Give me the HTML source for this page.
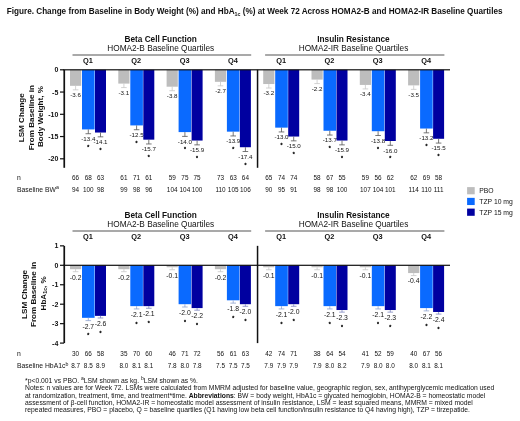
<!DOCTYPE html>
<html><head><meta charset="utf-8"><style>
html,body{margin:0;padding:0;background:#fff;}
svg{display:block;}
text{font-family:"Liberation Sans", Arial, Helvetica, sans-serif;fill:#111;}
</style></head><body>
<svg width="520" height="421" viewBox="0 0 520 421">
<text x="6.8" y="14.4" font-size="8.17" font-weight="bold">Figure. Change from Baseline in Body Weight (%) and HbA<tspan font-size="5.3" dy="1.8">1c</tspan><tspan dy="-1.8"> (%) at Week 72 Across HOMA2-B and HOMA2-IR Baseline Quartiles</tspan></text>
<text x="160.7" y="41.8" font-size="8.25" font-weight="bold" text-anchor="middle">Beta Cell Function</text>
<text x="160.7" y="51.0" font-size="8.25" text-anchor="middle">HOMA2-B Baseline Quartiles</text>
<rect x="72.5" y="54.5" width="178.7" height="1" fill="#555"/>
<text x="353.5" y="41.8" font-size="8.25" font-weight="bold" text-anchor="middle">Insulin Resistance</text>
<text x="353.5" y="51.0" font-size="8.25" text-anchor="middle">HOMA2-IR Baseline Quartiles</text>
<rect x="265.1" y="54.5" width="179.29999999999995" height="1" fill="#555"/>
<text x="88.00" y="63.4" font-size="7.4" font-weight="bold" text-anchor="middle">Q1</text>
<text x="136.30" y="63.4" font-size="7.4" font-weight="bold" text-anchor="middle">Q2</text>
<text x="184.60" y="63.4" font-size="7.4" font-weight="bold" text-anchor="middle">Q3</text>
<text x="232.90" y="63.4" font-size="7.4" font-weight="bold" text-anchor="middle">Q4</text>
<text x="281.20" y="63.4" font-size="7.4" font-weight="bold" text-anchor="middle">Q1</text>
<text x="329.50" y="63.4" font-size="7.4" font-weight="bold" text-anchor="middle">Q2</text>
<text x="377.80" y="63.4" font-size="7.4" font-weight="bold" text-anchor="middle">Q3</text>
<text x="426.10" y="63.4" font-size="7.4" font-weight="bold" text-anchor="middle">Q4</text>
<rect x="70.00" y="69.80" width="11.20" height="16.02" fill="#bdbdbd"/>
<path d="M75.60 85.82V89.82M72.80 89.82H78.40" stroke="#c8c8c8" stroke-width="0.8" fill="none"/>
<text x="75.60" y="97.22" font-size="6.2" fill="#111" text-anchor="middle">-3.6</text>
<rect x="82.00" y="69.80" width="12.60" height="59.63" fill="#0a6aff"/>
<path d="M88.30 129.43V133.73M85.50 133.73H91.10" stroke="#555" stroke-width="0.8" fill="none"/>
<text x="88.30" y="141.13" font-size="6.2" fill="#111" text-anchor="middle">-13.4</text>
<text x="88.30" y="148.73" font-size="5.0" font-weight="bold" fill="#111" stroke="#111" stroke-width="0.3" text-anchor="middle">*</text>
<rect x="95.00" y="69.80" width="11.00" height="62.74" fill="#0000a0"/>
<path d="M100.50 132.54V136.84M97.70 136.84H103.30" stroke="#555" stroke-width="0.8" fill="none"/>
<text x="100.50" y="144.25" font-size="6.2" fill="#111" text-anchor="middle">-14.1</text>
<text x="100.50" y="151.84" font-size="5.0" font-weight="bold" fill="#111" stroke="#111" stroke-width="0.3" text-anchor="middle">*</text>
<rect x="118.30" y="69.80" width="11.20" height="13.80" fill="#bdbdbd"/>
<path d="M123.90 83.59V87.59M121.10 87.59H126.70" stroke="#c8c8c8" stroke-width="0.8" fill="none"/>
<text x="123.90" y="95.00" font-size="6.2" fill="#111" text-anchor="middle">-3.1</text>
<rect x="130.30" y="69.80" width="12.60" height="55.62" fill="#0a6aff"/>
<path d="M136.60 125.42V129.72M133.80 129.72H139.40" stroke="#555" stroke-width="0.8" fill="none"/>
<text x="136.60" y="137.12" font-size="6.2" fill="#111" text-anchor="middle">-12.5</text>
<text x="136.60" y="144.72" font-size="5.0" font-weight="bold" fill="#111" stroke="#111" stroke-width="0.3" text-anchor="middle">*</text>
<rect x="143.30" y="69.80" width="11.00" height="69.86" fill="#0000a0"/>
<path d="M148.80 139.66V143.97M146.00 143.97H151.60" stroke="#555" stroke-width="0.8" fill="none"/>
<text x="148.80" y="151.37" font-size="6.2" fill="#111" text-anchor="middle">-15.7</text>
<text x="148.80" y="158.97" font-size="5.0" font-weight="bold" fill="#111" stroke="#111" stroke-width="0.3" text-anchor="middle">*</text>
<rect x="166.60" y="69.80" width="11.20" height="16.91" fill="#bdbdbd"/>
<path d="M172.20 86.71V90.71M169.40 90.71H175.00" stroke="#c8c8c8" stroke-width="0.8" fill="none"/>
<text x="172.20" y="98.11" font-size="6.2" fill="#111" text-anchor="middle">-3.8</text>
<rect x="178.60" y="69.80" width="12.60" height="62.30" fill="#0a6aff"/>
<path d="M184.90 132.10V136.40M182.10 136.40H187.70" stroke="#555" stroke-width="0.8" fill="none"/>
<text x="184.90" y="143.80" font-size="6.2" fill="#111" text-anchor="middle">-14.0</text>
<text x="184.90" y="151.40" font-size="5.0" font-weight="bold" fill="#111" stroke="#111" stroke-width="0.3" text-anchor="middle">*</text>
<rect x="191.60" y="69.80" width="11.00" height="70.76" fill="#0000a0"/>
<path d="M197.10 140.56V144.86M194.30 144.86H199.90" stroke="#555" stroke-width="0.8" fill="none"/>
<text x="197.10" y="152.26" font-size="6.2" fill="#111" text-anchor="middle">-15.9</text>
<text x="197.10" y="159.86" font-size="5.0" font-weight="bold" fill="#111" stroke="#111" stroke-width="0.3" text-anchor="middle">*</text>
<rect x="214.90" y="69.80" width="11.20" height="12.02" fill="#bdbdbd"/>
<path d="M220.50 81.81V85.81M217.70 85.81H223.30" stroke="#c8c8c8" stroke-width="0.8" fill="none"/>
<text x="220.50" y="93.22" font-size="6.2" fill="#111" text-anchor="middle">-2.7</text>
<rect x="226.90" y="69.80" width="12.60" height="61.86" fill="#0a6aff"/>
<path d="M233.20 131.66V135.96M230.40 135.96H236.00" stroke="#555" stroke-width="0.8" fill="none"/>
<text x="233.20" y="143.36" font-size="6.2" fill="#111" text-anchor="middle">-13.9</text>
<text x="233.20" y="150.96" font-size="5.0" font-weight="bold" fill="#111" stroke="#111" stroke-width="0.3" text-anchor="middle">*</text>
<rect x="239.90" y="69.80" width="11.00" height="77.43" fill="#0000a0"/>
<path d="M245.40 147.23V151.53M242.60 151.53H248.20" stroke="#555" stroke-width="0.8" fill="none"/>
<text x="245.40" y="158.93" font-size="6.2" fill="#111" text-anchor="middle">-17.4</text>
<text x="245.40" y="166.53" font-size="5.0" font-weight="bold" fill="#111" stroke="#111" stroke-width="0.3" text-anchor="middle">*</text>
<rect x="263.20" y="69.80" width="11.20" height="14.24" fill="#bdbdbd"/>
<path d="M268.80 84.04V88.04M266.00 88.04H271.60" stroke="#c8c8c8" stroke-width="0.8" fill="none"/>
<text x="268.80" y="95.44" font-size="6.2" fill="#111" text-anchor="middle">-3.2</text>
<rect x="275.20" y="69.80" width="12.60" height="57.85" fill="#0a6aff"/>
<path d="M281.50 127.65V131.95M278.70 131.95H284.30" stroke="#555" stroke-width="0.8" fill="none"/>
<text x="281.50" y="139.35" font-size="6.2" fill="#111" text-anchor="middle">-13.0</text>
<text x="281.50" y="146.95" font-size="5.0" font-weight="bold" fill="#111" stroke="#111" stroke-width="0.3" text-anchor="middle">*</text>
<rect x="288.20" y="69.80" width="11.00" height="66.75" fill="#0000a0"/>
<path d="M293.70 136.55V140.85M290.90 140.85H296.50" stroke="#555" stroke-width="0.8" fill="none"/>
<text x="293.70" y="148.25" font-size="6.2" fill="#111" text-anchor="middle">-15.0</text>
<text x="293.70" y="155.85" font-size="5.0" font-weight="bold" fill="#111" stroke="#111" stroke-width="0.3" text-anchor="middle">*</text>
<rect x="311.50" y="69.80" width="11.20" height="9.79" fill="#bdbdbd"/>
<path d="M317.10 79.59V83.59M314.30 83.59H319.90" stroke="#c8c8c8" stroke-width="0.8" fill="none"/>
<text x="317.10" y="90.99" font-size="6.2" fill="#111" text-anchor="middle">-2.2</text>
<rect x="323.50" y="69.80" width="12.60" height="60.96" fill="#0a6aff"/>
<path d="M329.80 130.76V135.06M327.00 135.06H332.60" stroke="#555" stroke-width="0.8" fill="none"/>
<text x="329.80" y="142.47" font-size="6.2" fill="#111" text-anchor="middle">-13.7</text>
<text x="329.80" y="150.06" font-size="5.0" font-weight="bold" fill="#111" stroke="#111" stroke-width="0.3" text-anchor="middle">*</text>
<rect x="336.50" y="69.80" width="11.00" height="70.76" fill="#0000a0"/>
<path d="M342.00 140.56V144.86M339.20 144.86H344.80" stroke="#555" stroke-width="0.8" fill="none"/>
<text x="342.00" y="152.26" font-size="6.2" fill="#111" text-anchor="middle">-15.9</text>
<text x="342.00" y="159.86" font-size="5.0" font-weight="bold" fill="#111" stroke="#111" stroke-width="0.3" text-anchor="middle">*</text>
<rect x="359.80" y="69.80" width="11.20" height="15.13" fill="#bdbdbd"/>
<path d="M365.40 84.93V88.93M362.60 88.93H368.20" stroke="#c8c8c8" stroke-width="0.8" fill="none"/>
<text x="365.40" y="96.33" font-size="6.2" fill="#111" text-anchor="middle">-3.4</text>
<rect x="371.80" y="69.80" width="12.60" height="61.41" fill="#0a6aff"/>
<path d="M378.10 131.21V135.51M375.30 135.51H380.90" stroke="#555" stroke-width="0.8" fill="none"/>
<text x="378.10" y="142.91" font-size="6.2" fill="#111" text-anchor="middle">-13.8</text>
<text x="378.10" y="150.51" font-size="5.0" font-weight="bold" fill="#111" stroke="#111" stroke-width="0.3" text-anchor="middle">*</text>
<rect x="384.80" y="69.80" width="11.00" height="71.20" fill="#0000a0"/>
<path d="M390.30 141.00V145.30M387.50 145.30H393.10" stroke="#555" stroke-width="0.8" fill="none"/>
<text x="390.30" y="152.70" font-size="6.2" fill="#111" text-anchor="middle">-16.0</text>
<text x="390.30" y="160.30" font-size="5.0" font-weight="bold" fill="#111" stroke="#111" stroke-width="0.3" text-anchor="middle">*</text>
<rect x="408.10" y="69.80" width="11.20" height="15.58" fill="#bdbdbd"/>
<path d="M413.70 85.38V89.38M410.90 89.38H416.50" stroke="#c8c8c8" stroke-width="0.8" fill="none"/>
<text x="413.70" y="96.78" font-size="6.2" fill="#111" text-anchor="middle">-3.5</text>
<rect x="420.10" y="69.80" width="12.60" height="58.74" fill="#0a6aff"/>
<path d="M426.40 128.54V132.84M423.60 132.84H429.20" stroke="#555" stroke-width="0.8" fill="none"/>
<text x="426.40" y="140.24" font-size="6.2" fill="#111" text-anchor="middle">-13.2</text>
<text x="426.40" y="147.84" font-size="5.0" font-weight="bold" fill="#111" stroke="#111" stroke-width="0.3" text-anchor="middle">*</text>
<rect x="433.10" y="69.80" width="11.00" height="68.98" fill="#0000a0"/>
<path d="M438.60 138.78V143.08M435.80 143.08H441.40" stroke="#555" stroke-width="0.8" fill="none"/>
<text x="438.60" y="150.48" font-size="6.2" fill="#111" text-anchor="middle">-15.5</text>
<text x="438.60" y="158.08" font-size="5.0" font-weight="bold" fill="#111" stroke="#111" stroke-width="0.3" text-anchor="middle">*</text>
<rect x="63.3" y="69.20" width="386.70" height="1.2" fill="#111"/>
<rect x="63.4" y="69.80" width="1.7" height="98.00" fill="#111"/>
<rect x="256.8" y="69.80" width="1.5" height="98.00" fill="#111"/>
<rect x="60" y="69.20" width="4" height="1.2" fill="#111"/>
<text x="58.3" y="72.30" font-size="7" font-weight="bold" text-anchor="end">0</text>
<rect x="60" y="91.45" width="4" height="1.2" fill="#111"/>
<text x="58.3" y="94.55" font-size="7" font-weight="bold" text-anchor="end">-5</text>
<rect x="60" y="113.70" width="4" height="1.2" fill="#111"/>
<text x="58.3" y="116.80" font-size="7" font-weight="bold" text-anchor="end">-10</text>
<rect x="60" y="135.95" width="4" height="1.2" fill="#111"/>
<text x="58.3" y="139.05" font-size="7" font-weight="bold" text-anchor="end">-15</text>
<rect x="60" y="158.20" width="4" height="1.2" fill="#111"/>
<text x="58.3" y="161.30" font-size="7" font-weight="bold" text-anchor="end">-20</text>
<text transform="translate(30.7,116.6) rotate(-90)" font-size="8.1" font-weight="bold" text-anchor="middle">
<tspan x="0" y="-6.60">LSM Change</tspan>
<tspan x="0" y="2.90">From Baseline in</tspan>
<tspan x="0" y="12.40">Body Weight, %</tspan>
</text>
<text x="17" y="179.50" font-size="6.8" fill="#1a1a1a">n</text>
<text x="17" y="191.50" font-size="6.8" fill="#1a1a1a">Baseline BW<tspan font-size="5.2" dy="-2.6">a</tspan></text>
<text x="75.60" y="179.50" font-size="6.4" fill="#1a1a1a" text-anchor="middle">66</text>
<text x="75.60" y="191.50" font-size="6.4" fill="#1a1a1a" text-anchor="middle">94</text>
<text x="88.30" y="179.50" font-size="6.4" fill="#1a1a1a" text-anchor="middle">68</text>
<text x="88.30" y="191.50" font-size="6.4" fill="#1a1a1a" text-anchor="middle">100</text>
<text x="100.50" y="179.50" font-size="6.4" fill="#1a1a1a" text-anchor="middle">63</text>
<text x="100.50" y="191.50" font-size="6.4" fill="#1a1a1a" text-anchor="middle">98</text>
<text x="123.90" y="179.50" font-size="6.4" fill="#1a1a1a" text-anchor="middle">61</text>
<text x="123.90" y="191.50" font-size="6.4" fill="#1a1a1a" text-anchor="middle">99</text>
<text x="136.60" y="179.50" font-size="6.4" fill="#1a1a1a" text-anchor="middle">71</text>
<text x="136.60" y="191.50" font-size="6.4" fill="#1a1a1a" text-anchor="middle">98</text>
<text x="148.80" y="179.50" font-size="6.4" fill="#1a1a1a" text-anchor="middle">61</text>
<text x="148.80" y="191.50" font-size="6.4" fill="#1a1a1a" text-anchor="middle">96</text>
<text x="172.20" y="179.50" font-size="6.4" fill="#1a1a1a" text-anchor="middle">59</text>
<text x="172.20" y="191.50" font-size="6.4" fill="#1a1a1a" text-anchor="middle">104</text>
<text x="184.90" y="179.50" font-size="6.4" fill="#1a1a1a" text-anchor="middle">75</text>
<text x="184.90" y="191.50" font-size="6.4" fill="#1a1a1a" text-anchor="middle">104</text>
<text x="197.10" y="179.50" font-size="6.4" fill="#1a1a1a" text-anchor="middle">75</text>
<text x="197.10" y="191.50" font-size="6.4" fill="#1a1a1a" text-anchor="middle">100</text>
<text x="220.50" y="179.50" font-size="6.4" fill="#1a1a1a" text-anchor="middle">73</text>
<text x="220.50" y="191.50" font-size="6.4" fill="#1a1a1a" text-anchor="middle">110</text>
<text x="233.20" y="179.50" font-size="6.4" fill="#1a1a1a" text-anchor="middle">63</text>
<text x="233.20" y="191.50" font-size="6.4" fill="#1a1a1a" text-anchor="middle">105</text>
<text x="245.40" y="179.50" font-size="6.4" fill="#1a1a1a" text-anchor="middle">64</text>
<text x="245.40" y="191.50" font-size="6.4" fill="#1a1a1a" text-anchor="middle">106</text>
<text x="268.80" y="179.50" font-size="6.4" fill="#1a1a1a" text-anchor="middle">65</text>
<text x="268.80" y="191.50" font-size="6.4" fill="#1a1a1a" text-anchor="middle">90</text>
<text x="281.50" y="179.50" font-size="6.4" fill="#1a1a1a" text-anchor="middle">74</text>
<text x="281.50" y="191.50" font-size="6.4" fill="#1a1a1a" text-anchor="middle">95</text>
<text x="293.70" y="179.50" font-size="6.4" fill="#1a1a1a" text-anchor="middle">74</text>
<text x="293.70" y="191.50" font-size="6.4" fill="#1a1a1a" text-anchor="middle">91</text>
<text x="317.10" y="179.50" font-size="6.4" fill="#1a1a1a" text-anchor="middle">58</text>
<text x="317.10" y="191.50" font-size="6.4" fill="#1a1a1a" text-anchor="middle">98</text>
<text x="329.80" y="179.50" font-size="6.4" fill="#1a1a1a" text-anchor="middle">67</text>
<text x="329.80" y="191.50" font-size="6.4" fill="#1a1a1a" text-anchor="middle">98</text>
<text x="342.00" y="179.50" font-size="6.4" fill="#1a1a1a" text-anchor="middle">55</text>
<text x="342.00" y="191.50" font-size="6.4" fill="#1a1a1a" text-anchor="middle">100</text>
<text x="365.40" y="179.50" font-size="6.4" fill="#1a1a1a" text-anchor="middle">59</text>
<text x="365.40" y="191.50" font-size="6.4" fill="#1a1a1a" text-anchor="middle">107</text>
<text x="378.10" y="179.50" font-size="6.4" fill="#1a1a1a" text-anchor="middle">56</text>
<text x="378.10" y="191.50" font-size="6.4" fill="#1a1a1a" text-anchor="middle">104</text>
<text x="390.30" y="179.50" font-size="6.4" fill="#1a1a1a" text-anchor="middle">62</text>
<text x="390.30" y="191.50" font-size="6.4" fill="#1a1a1a" text-anchor="middle">101</text>
<text x="413.70" y="179.50" font-size="6.4" fill="#1a1a1a" text-anchor="middle">62</text>
<text x="413.70" y="191.50" font-size="6.4" fill="#1a1a1a" text-anchor="middle">114</text>
<text x="426.40" y="179.50" font-size="6.4" fill="#1a1a1a" text-anchor="middle">69</text>
<text x="426.40" y="191.50" font-size="6.4" fill="#1a1a1a" text-anchor="middle">110</text>
<text x="438.60" y="179.50" font-size="6.4" fill="#1a1a1a" text-anchor="middle">58</text>
<text x="438.60" y="191.50" font-size="6.4" fill="#1a1a1a" text-anchor="middle">111</text>
<text x="160.7" y="217.8" font-size="8.25" font-weight="bold" text-anchor="middle">Beta Cell Function</text>
<text x="160.7" y="227.0" font-size="8.25" text-anchor="middle">HOMA2-B Baseline Quartiles</text>
<rect x="72.5" y="230.5" width="178.7" height="1" fill="#555"/>
<text x="353.5" y="217.8" font-size="8.25" font-weight="bold" text-anchor="middle">Insulin Resistance</text>
<text x="353.5" y="227.0" font-size="8.25" text-anchor="middle">HOMA2-IR Baseline Quartiles</text>
<rect x="265.1" y="230.5" width="179.29999999999995" height="1" fill="#555"/>
<text x="88.00" y="239.4" font-size="7.4" font-weight="bold" text-anchor="middle">Q1</text>
<text x="136.30" y="239.4" font-size="7.4" font-weight="bold" text-anchor="middle">Q2</text>
<text x="184.60" y="239.4" font-size="7.4" font-weight="bold" text-anchor="middle">Q3</text>
<text x="232.90" y="239.4" font-size="7.4" font-weight="bold" text-anchor="middle">Q4</text>
<text x="281.20" y="239.4" font-size="7.4" font-weight="bold" text-anchor="middle">Q1</text>
<text x="329.50" y="239.4" font-size="7.4" font-weight="bold" text-anchor="middle">Q2</text>
<text x="377.80" y="239.4" font-size="7.4" font-weight="bold" text-anchor="middle">Q3</text>
<text x="426.10" y="239.4" font-size="7.4" font-weight="bold" text-anchor="middle">Q4</text>
<rect x="70.00" y="265.30" width="11.20" height="3.89" fill="#bdbdbd"/>
<path d="M75.60 269.19V271.69M72.80 271.69H78.40" stroke="#c8c8c8" stroke-width="0.8" fill="none"/>
<text x="75.60" y="279.59" font-size="6.8" fill="#111" text-anchor="middle">-0.2</text>
<rect x="82.00" y="265.30" width="12.60" height="52.52" fill="#0a6aff"/>
<path d="M88.30 317.81V320.62M85.50 320.62H91.10" stroke="#8fa3d0" stroke-width="0.8" fill="none"/>
<text x="88.30" y="328.51" font-size="6.8" fill="#111" text-anchor="middle">-2.7</text>
<text x="88.30" y="337.31" font-size="5.0" font-weight="bold" fill="#111" stroke="#111" stroke-width="0.3" text-anchor="middle">*</text>
<rect x="95.00" y="265.30" width="11.00" height="50.57" fill="#0000a0"/>
<path d="M100.50 315.87V317.97M97.70 317.97H103.30" stroke="#7f86c0" stroke-width="0.8" fill="none"/>
<text x="100.50" y="325.87" font-size="6.8" fill="#111" text-anchor="middle">-2.6</text>
<text x="100.50" y="334.67" font-size="5.0" font-weight="bold" fill="#111" stroke="#111" stroke-width="0.3" text-anchor="middle">*</text>
<rect x="118.30" y="265.30" width="11.20" height="3.89" fill="#bdbdbd"/>
<path d="M123.90 269.19V271.69M121.10 271.69H126.70" stroke="#c8c8c8" stroke-width="0.8" fill="none"/>
<text x="123.90" y="279.59" font-size="6.8" fill="#111" text-anchor="middle">-0.2</text>
<rect x="130.30" y="265.30" width="12.60" height="40.84" fill="#0a6aff"/>
<path d="M136.60 306.14V308.94M133.80 308.94H139.40" stroke="#8fa3d0" stroke-width="0.8" fill="none"/>
<text x="136.60" y="316.84" font-size="6.8" fill="#111" text-anchor="middle">-2.1</text>
<text x="136.60" y="325.64" font-size="5.0" font-weight="bold" fill="#111" stroke="#111" stroke-width="0.3" text-anchor="middle">*</text>
<rect x="143.30" y="265.30" width="11.00" height="40.84" fill="#0000a0"/>
<path d="M148.80 306.14V308.25M146.00 308.25H151.60" stroke="#7f86c0" stroke-width="0.8" fill="none"/>
<text x="148.80" y="316.14" font-size="6.8" fill="#111" text-anchor="middle">-2.1</text>
<text x="148.80" y="324.94" font-size="5.0" font-weight="bold" fill="#111" stroke="#111" stroke-width="0.3" text-anchor="middle">*</text>
<rect x="166.60" y="265.30" width="11.20" height="1.95" fill="#bdbdbd"/>
<path d="M172.20 267.25V269.75M169.40 269.75H175.00" stroke="#c8c8c8" stroke-width="0.8" fill="none"/>
<text x="172.20" y="277.64" font-size="6.8" fill="#111" text-anchor="middle">-0.1</text>
<rect x="178.60" y="265.30" width="12.60" height="38.90" fill="#0a6aff"/>
<path d="M184.90 304.20V307.00M182.10 307.00H187.70" stroke="#8fa3d0" stroke-width="0.8" fill="none"/>
<text x="184.90" y="314.90" font-size="6.8" fill="#111" text-anchor="middle">-2.0</text>
<text x="184.90" y="323.70" font-size="5.0" font-weight="bold" fill="#111" stroke="#111" stroke-width="0.3" text-anchor="middle">*</text>
<rect x="191.60" y="265.30" width="11.00" height="42.79" fill="#0000a0"/>
<path d="M197.10 308.09V310.19M194.30 310.19H199.90" stroke="#7f86c0" stroke-width="0.8" fill="none"/>
<text x="197.10" y="318.09" font-size="6.8" fill="#111" text-anchor="middle">-2.2</text>
<text x="197.10" y="326.89" font-size="5.0" font-weight="bold" fill="#111" stroke="#111" stroke-width="0.3" text-anchor="middle">*</text>
<rect x="214.90" y="265.30" width="11.20" height="3.89" fill="#bdbdbd"/>
<path d="M220.50 269.19V271.69M217.70 271.69H223.30" stroke="#c8c8c8" stroke-width="0.8" fill="none"/>
<text x="220.50" y="279.59" font-size="6.8" fill="#111" text-anchor="middle">-0.2</text>
<rect x="226.90" y="265.30" width="12.60" height="35.01" fill="#0a6aff"/>
<path d="M233.20 300.31V303.11M230.40 303.11H236.00" stroke="#8fa3d0" stroke-width="0.8" fill="none"/>
<text x="233.20" y="311.01" font-size="6.8" fill="#111" text-anchor="middle">-1.8</text>
<text x="233.20" y="319.81" font-size="5.0" font-weight="bold" fill="#111" stroke="#111" stroke-width="0.3" text-anchor="middle">*</text>
<rect x="239.90" y="265.30" width="11.00" height="38.90" fill="#0000a0"/>
<path d="M245.40 304.20V306.30M242.60 306.30H248.20" stroke="#7f86c0" stroke-width="0.8" fill="none"/>
<text x="245.40" y="314.20" font-size="6.8" fill="#111" text-anchor="middle">-2.0</text>
<text x="245.40" y="323.00" font-size="5.0" font-weight="bold" fill="#111" stroke="#111" stroke-width="0.3" text-anchor="middle">*</text>
<rect x="263.20" y="265.30" width="11.20" height="1.95" fill="#bdbdbd"/>
<path d="M268.80 267.25V269.75M266.00 269.75H271.60" stroke="#c8c8c8" stroke-width="0.8" fill="none"/>
<text x="268.80" y="277.64" font-size="6.8" fill="#111" text-anchor="middle">-0.1</text>
<rect x="275.20" y="265.30" width="12.60" height="40.84" fill="#0a6aff"/>
<path d="M281.50 306.14V308.94M278.70 308.94H284.30" stroke="#8fa3d0" stroke-width="0.8" fill="none"/>
<text x="281.50" y="316.84" font-size="6.8" fill="#111" text-anchor="middle">-2.1</text>
<text x="281.50" y="325.64" font-size="5.0" font-weight="bold" fill="#111" stroke="#111" stroke-width="0.3" text-anchor="middle">*</text>
<rect x="288.20" y="265.30" width="11.00" height="38.90" fill="#0000a0"/>
<path d="M293.70 304.20V306.30M290.90 306.30H296.50" stroke="#7f86c0" stroke-width="0.8" fill="none"/>
<text x="293.70" y="314.20" font-size="6.8" fill="#111" text-anchor="middle">-2.0</text>
<text x="293.70" y="323.00" font-size="5.0" font-weight="bold" fill="#111" stroke="#111" stroke-width="0.3" text-anchor="middle">*</text>
<rect x="311.50" y="265.30" width="11.20" height="1.95" fill="#bdbdbd"/>
<path d="M317.10 267.25V269.75M314.30 269.75H319.90" stroke="#c8c8c8" stroke-width="0.8" fill="none"/>
<text x="317.10" y="277.64" font-size="6.8" fill="#111" text-anchor="middle">-0.1</text>
<rect x="323.50" y="265.30" width="12.60" height="40.84" fill="#0a6aff"/>
<path d="M329.80 306.14V308.94M327.00 308.94H332.60" stroke="#8fa3d0" stroke-width="0.8" fill="none"/>
<text x="329.80" y="316.84" font-size="6.8" fill="#111" text-anchor="middle">-2.1</text>
<text x="329.80" y="325.64" font-size="5.0" font-weight="bold" fill="#111" stroke="#111" stroke-width="0.3" text-anchor="middle">*</text>
<rect x="336.50" y="265.30" width="11.00" height="44.73" fill="#0000a0"/>
<path d="M342.00 310.04V312.14M339.20 312.14H344.80" stroke="#7f86c0" stroke-width="0.8" fill="none"/>
<text x="342.00" y="320.04" font-size="6.8" fill="#111" text-anchor="middle">-2.3</text>
<text x="342.00" y="328.84" font-size="5.0" font-weight="bold" fill="#111" stroke="#111" stroke-width="0.3" text-anchor="middle">*</text>
<rect x="359.80" y="265.30" width="11.20" height="1.95" fill="#bdbdbd"/>
<path d="M365.40 267.25V269.75M362.60 269.75H368.20" stroke="#c8c8c8" stroke-width="0.8" fill="none"/>
<text x="365.40" y="277.64" font-size="6.8" fill="#111" text-anchor="middle">-0.1</text>
<rect x="371.80" y="265.30" width="12.60" height="40.84" fill="#0a6aff"/>
<path d="M378.10 306.14V308.94M375.30 308.94H380.90" stroke="#8fa3d0" stroke-width="0.8" fill="none"/>
<text x="378.10" y="316.84" font-size="6.8" fill="#111" text-anchor="middle">-2.1</text>
<text x="378.10" y="325.64" font-size="5.0" font-weight="bold" fill="#111" stroke="#111" stroke-width="0.3" text-anchor="middle">*</text>
<rect x="384.80" y="265.30" width="11.00" height="44.73" fill="#0000a0"/>
<path d="M390.30 310.04V312.14M387.50 312.14H393.10" stroke="#7f86c0" stroke-width="0.8" fill="none"/>
<text x="390.30" y="320.04" font-size="6.8" fill="#111" text-anchor="middle">-2.3</text>
<text x="390.30" y="328.84" font-size="5.0" font-weight="bold" fill="#111" stroke="#111" stroke-width="0.3" text-anchor="middle">*</text>
<rect x="408.10" y="265.30" width="11.20" height="7.78" fill="#bdbdbd"/>
<path d="M413.70 273.08V275.58M410.90 275.58H416.50" stroke="#c8c8c8" stroke-width="0.8" fill="none"/>
<text x="413.70" y="283.48" font-size="6.8" fill="#111" text-anchor="middle">-0.4</text>
<rect x="420.10" y="265.30" width="12.60" height="42.79" fill="#0a6aff"/>
<path d="M426.40 308.09V310.89M423.60 310.89H429.20" stroke="#8fa3d0" stroke-width="0.8" fill="none"/>
<text x="426.40" y="318.79" font-size="6.8" fill="#111" text-anchor="middle">-2.2</text>
<text x="426.40" y="327.59" font-size="5.0" font-weight="bold" fill="#111" stroke="#111" stroke-width="0.3" text-anchor="middle">*</text>
<rect x="433.10" y="265.30" width="11.00" height="46.68" fill="#0000a0"/>
<path d="M438.60 311.98V314.08M435.80 314.08H441.40" stroke="#7f86c0" stroke-width="0.8" fill="none"/>
<text x="438.60" y="321.98" font-size="6.8" fill="#111" text-anchor="middle">-2.4</text>
<text x="438.60" y="330.78" font-size="5.0" font-weight="bold" fill="#111" stroke="#111" stroke-width="0.3" text-anchor="middle">*</text>
<rect x="63.3" y="264.70" width="386.70" height="1.2" fill="#111"/>
<rect x="63.4" y="245.85" width="1.7" height="97.25" fill="#111"/>
<rect x="256.8" y="245.85" width="1.5" height="97.25" fill="#111"/>
<rect x="60" y="245.25" width="4" height="1.2" fill="#111"/>
<text x="58.3" y="248.35" font-size="7" font-weight="bold" text-anchor="end">1</text>
<rect x="60" y="264.70" width="4" height="1.2" fill="#111"/>
<text x="58.3" y="267.80" font-size="7" font-weight="bold" text-anchor="end">0</text>
<rect x="60" y="284.15" width="4" height="1.2" fill="#111"/>
<text x="58.3" y="287.25" font-size="7" font-weight="bold" text-anchor="end">-1</text>
<rect x="60" y="303.60" width="4" height="1.2" fill="#111"/>
<text x="58.3" y="306.70" font-size="7" font-weight="bold" text-anchor="end">-2</text>
<rect x="60" y="323.05" width="4" height="1.2" fill="#111"/>
<text x="58.3" y="326.15" font-size="7" font-weight="bold" text-anchor="end">-3</text>
<rect x="60" y="342.50" width="4" height="1.2" fill="#111"/>
<text x="58.3" y="345.60" font-size="7" font-weight="bold" text-anchor="end">-4</text>
<text transform="translate(33.2,293.3) rotate(-90)" font-size="8.1" font-weight="bold" text-anchor="middle">
<tspan x="0" y="-6.60">LSM Change</tspan>
<tspan x="0" y="2.90">From Baseline in</tspan>
<tspan x="0" y="12.40">HbA<tspan font-size="5.3" dy="1.8">1c</tspan><tspan dy="-1.8">, %</tspan></tspan>
</text>
<text x="17" y="355.60" font-size="6.8" fill="#1a1a1a">n</text>
<text x="17" y="368.10" font-size="6.8" fill="#1a1a1a">Baseline HbA1c<tspan font-size="5.2" dy="-2.6">b</tspan></text>
<text x="75.60" y="355.60" font-size="6.4" fill="#1a1a1a" text-anchor="middle">30</text>
<text x="75.60" y="368.10" font-size="6.4" fill="#1a1a1a" text-anchor="middle">8.7</text>
<text x="88.30" y="355.60" font-size="6.4" fill="#1a1a1a" text-anchor="middle">66</text>
<text x="88.30" y="368.10" font-size="6.4" fill="#1a1a1a" text-anchor="middle">8.5</text>
<text x="100.50" y="355.60" font-size="6.4" fill="#1a1a1a" text-anchor="middle">58</text>
<text x="100.50" y="368.10" font-size="6.4" fill="#1a1a1a" text-anchor="middle">8.9</text>
<text x="123.90" y="355.60" font-size="6.4" fill="#1a1a1a" text-anchor="middle">35</text>
<text x="123.90" y="368.10" font-size="6.4" fill="#1a1a1a" text-anchor="middle">8.0</text>
<text x="136.60" y="355.60" font-size="6.4" fill="#1a1a1a" text-anchor="middle">70</text>
<text x="136.60" y="368.10" font-size="6.4" fill="#1a1a1a" text-anchor="middle">8.1</text>
<text x="148.80" y="355.60" font-size="6.4" fill="#1a1a1a" text-anchor="middle">60</text>
<text x="148.80" y="368.10" font-size="6.4" fill="#1a1a1a" text-anchor="middle">8.1</text>
<text x="172.20" y="355.60" font-size="6.4" fill="#1a1a1a" text-anchor="middle">46</text>
<text x="172.20" y="368.10" font-size="6.4" fill="#1a1a1a" text-anchor="middle">7.8</text>
<text x="184.90" y="355.60" font-size="6.4" fill="#1a1a1a" text-anchor="middle">71</text>
<text x="184.90" y="368.10" font-size="6.4" fill="#1a1a1a" text-anchor="middle">8.0</text>
<text x="197.10" y="355.60" font-size="6.4" fill="#1a1a1a" text-anchor="middle">72</text>
<text x="197.10" y="368.10" font-size="6.4" fill="#1a1a1a" text-anchor="middle">7.8</text>
<text x="220.50" y="355.60" font-size="6.4" fill="#1a1a1a" text-anchor="middle">56</text>
<text x="220.50" y="368.10" font-size="6.4" fill="#1a1a1a" text-anchor="middle">7.5</text>
<text x="233.20" y="355.60" font-size="6.4" fill="#1a1a1a" text-anchor="middle">61</text>
<text x="233.20" y="368.10" font-size="6.4" fill="#1a1a1a" text-anchor="middle">7.5</text>
<text x="245.40" y="355.60" font-size="6.4" fill="#1a1a1a" text-anchor="middle">63</text>
<text x="245.40" y="368.10" font-size="6.4" fill="#1a1a1a" text-anchor="middle">7.5</text>
<text x="268.80" y="355.60" font-size="6.4" fill="#1a1a1a" text-anchor="middle">42</text>
<text x="268.80" y="368.10" font-size="6.4" fill="#1a1a1a" text-anchor="middle">7.9</text>
<text x="281.50" y="355.60" font-size="6.4" fill="#1a1a1a" text-anchor="middle">74</text>
<text x="281.50" y="368.10" font-size="6.4" fill="#1a1a1a" text-anchor="middle">7.9</text>
<text x="293.70" y="355.60" font-size="6.4" fill="#1a1a1a" text-anchor="middle">71</text>
<text x="293.70" y="368.10" font-size="6.4" fill="#1a1a1a" text-anchor="middle">7.9</text>
<text x="317.10" y="355.60" font-size="6.4" fill="#1a1a1a" text-anchor="middle">38</text>
<text x="317.10" y="368.10" font-size="6.4" fill="#1a1a1a" text-anchor="middle">7.9</text>
<text x="329.80" y="355.60" font-size="6.4" fill="#1a1a1a" text-anchor="middle">64</text>
<text x="329.80" y="368.10" font-size="6.4" fill="#1a1a1a" text-anchor="middle">8.0</text>
<text x="342.00" y="355.60" font-size="6.4" fill="#1a1a1a" text-anchor="middle">54</text>
<text x="342.00" y="368.10" font-size="6.4" fill="#1a1a1a" text-anchor="middle">8.2</text>
<text x="365.40" y="355.60" font-size="6.4" fill="#1a1a1a" text-anchor="middle">41</text>
<text x="365.40" y="368.10" font-size="6.4" fill="#1a1a1a" text-anchor="middle">7.9</text>
<text x="378.10" y="355.60" font-size="6.4" fill="#1a1a1a" text-anchor="middle">52</text>
<text x="378.10" y="368.10" font-size="6.4" fill="#1a1a1a" text-anchor="middle">8.0</text>
<text x="390.30" y="355.60" font-size="6.4" fill="#1a1a1a" text-anchor="middle">59</text>
<text x="390.30" y="368.10" font-size="6.4" fill="#1a1a1a" text-anchor="middle">8.0</text>
<text x="413.70" y="355.60" font-size="6.4" fill="#1a1a1a" text-anchor="middle">40</text>
<text x="413.70" y="368.10" font-size="6.4" fill="#1a1a1a" text-anchor="middle">8.0</text>
<text x="426.40" y="355.60" font-size="6.4" fill="#1a1a1a" text-anchor="middle">67</text>
<text x="426.40" y="368.10" font-size="6.4" fill="#1a1a1a" text-anchor="middle">8.1</text>
<text x="438.60" y="355.60" font-size="6.4" fill="#1a1a1a" text-anchor="middle">56</text>
<text x="438.60" y="368.10" font-size="6.4" fill="#1a1a1a" text-anchor="middle">8.1</text>
<rect x="467.1" y="187.10" width="7.6" height="7.2" fill="#bdbdbd"/>
<text x="479.3" y="193.10" font-size="6.8" fill="#1a1a1a">PBO</text>
<rect x="467.1" y="197.85" width="7.6" height="7.2" fill="#0a6aff"/>
<text x="479.3" y="203.85" font-size="6.8" fill="#1a1a1a">TZP 10 mg</text>
<rect x="467.1" y="208.60" width="7.6" height="7.2" fill="#0000a0"/>
<text x="479.3" y="214.60" font-size="6.8" fill="#1a1a1a">TZP 15 mg</text>
<text x="25.1" y="382.60" font-size="6.77" fill="#111">*p&lt;0.001 vs PBO. <tspan font-size="5" dy="-2.4">a</tspan><tspan dy="2.4">LSM shown as kg. </tspan><tspan font-size="5" dy="-2.4">b</tspan><tspan dy="2.4">LSM shown as %.</tspan></text>
<text x="25.1" y="390.05" font-size="6.77" fill="#111">Notes: n values are for Week 72. LSMs were calculated from MMRM adjusted for baseline value, geographic region, sex, antihyperglycemic medication used</text>
<text x="25.1" y="397.50" font-size="6.77" fill="#111">at randomization, treatment, time, and treatment*time. <tspan font-weight="bold">Abbreviations</tspan>: BW = body weight, HbA1c = glycated hemoglobin, HOMA2-B = homeostatic model</text>
<text x="25.1" y="404.95" font-size="6.77" fill="#111">assessment of β-cell function, HOMA2-IR = homeostatic model assessment of insulin resistance, LSM = least squared means, MMRM = mixed model</text>
<text x="25.1" y="412.40" font-size="6.77" fill="#111">repeated measures, PBO = placebo, Q = baseline quartiles (Q1 having low beta cell function/insulin resistance to Q4 having high), TZP = tirzepatide.</text>
</svg>
</body></html>
